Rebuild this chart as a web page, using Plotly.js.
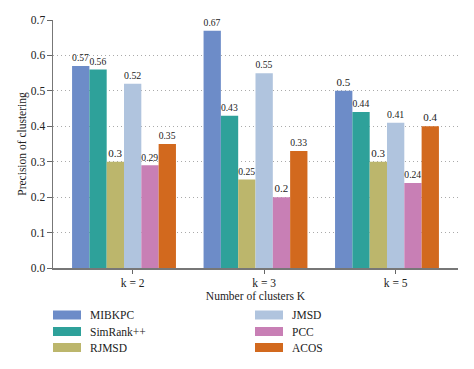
<!DOCTYPE html>
<html>
<head>
<meta charset="utf-8">
<script src="https://cdn.plot.ly/plotly-3.0.1.min.js"></script>
<style>html,body{margin:0;padding:0;background:#fff;}#chart{width:474px;height:369px;}</style>
</head>
<body>
<div id="chart"></div>
<script>
const groupPos = [0, 1, 2];
const groupLabels = ['k = 2', 'k = 3', 'k = 5'];
const tickPos = [0.066, 1.066, 2.066];
const seriesNames = ['MIBKPC', 'SimRank++', 'RJMSD', 'JMSD', 'PCC', 'ACOS'];
const MIBKPC = [0.57, 0.67, 0.5];
const SimRank = [0.56, 0.43, 0.44];
const RJMSD = [0.3, 0.25, 0.3];
const JMSD = [0.52, 0.55, 0.41];
const PCC = [0.29, 0.2, 0.24];
const ACOS = [0.35, 0.33, 0.4];
const seriesValues = [MIBKPC, SimRank, RJMSD, JMSD, PCC, ACOS];
const colors = ['#6d8cc8', '#2ea19a', '#bcb66c', '#b0c4de', '#c87fb5', '#d2691e'];
const serif = 'Liberation Serif, Times New Roman, serif';

const W = 474, H = 369;
const M = {l: 53, r: 16, t: 20, b: 101};
const plotW = W - M.l - M.r, plotH = H - M.t - M.b;
const px2x = p => (p - M.l) / plotW;
const px2y = p => (H - M.b - p) / plotH;

const traces = seriesNames.map((name, i) => ({
  type: 'bar',
  name: name,
  x: groupPos,
  y: seriesValues[i],
  marker: {color: colors[i], line: {width: 0}},
  text: seriesValues[i].map(v => String(v)),
  textposition: 'outside',
  cliponaxis: false,
  textfont: {family: serif, size: 11, color: '#222'},
  showlegend: false,
  hoverinfo: 'none'
}));

// custom legend: two columns of three entries, swatch + label
const shapes = [];
const annotations = [];
const colX = [53, 255];
const rowY = [315, 331.5, 347.5];
seriesNames.forEach((name, i) => {
  const c = Math.floor(i / 3), r = i % 3;
  const x0 = colX[c], yc = rowY[r];
  shapes.push({
    type: 'rect', xref: 'paper', yref: 'paper',
    x0: px2x(x0), x1: px2x(x0 + 28),
    y0: px2y(yc + 4.5), y1: px2y(yc - 4.5),
    fillcolor: colors[i], line: {width: 0}
  });
  annotations.push({
    xref: 'paper', yref: 'paper',
    x: px2x(x0 + 35), y: px2y(yc),
    xanchor: 'left', yanchor: 'middle',
    text: name, showarrow: false,
    font: {family: serif, size: 11.5, color: '#222'}
  });
});

const layout = {
  width: W, height: H,
  margin: M,
  paper_bgcolor: '#fff', plot_bgcolor: '#fff',
  font: {family: serif, size: 11, color: '#222'},
  barmode: 'group',
  bargap: 0.21,
  bargroupgap: 0,
  showlegend: false,
  xaxis: {
    range: [-0.54, 2.54],
    tickmode: 'array', tickvals: tickPos, ticktext: groupLabels,
    ticks: 'outside', ticklen: 4, tickcolor: '#666', tickwidth: 1,
    showgrid: false, zeroline: false,
    showline: true, linecolor: '#777', linewidth: 1.5,
    tickfont: {family: serif, size: 11.5, color: '#222'},
    title: {text: 'Number of clusters K', font: {family: serif, size: 11.5, color: '#222'}, standoff: 3}
  },
  yaxis: {
    range: [0, 0.7],
    tickvals: [0, 0.1, 0.2, 0.3, 0.4, 0.5, 0.6, 0.7],
    tickformat: '.1f',
    ticks: 'outside', ticklen: 5, tickcolor: '#666', tickwidth: 1,
    showgrid: true, gridcolor: '#aaa', griddash: '1px,3px', gridwidth: 1,
    zeroline: false,
    showline: true, linecolor: '#777', linewidth: 1.5,
    tickfont: {family: serif, size: 11.5, color: '#222'},
    ticklabelstandoff: -1,
    title: {text: 'Precision of clustering', font: {family: serif, size: 11.5, color: '#222'}, standoff: 2}
  },
  shapes: shapes,
  annotations: annotations
};

Plotly.newPlot('chart', traces, layout, {displayModeBar: false, staticPlot: true});
</script>
</body>
</html>
